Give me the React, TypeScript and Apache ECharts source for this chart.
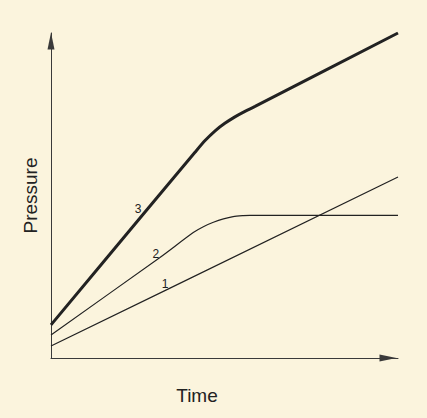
import React, { useEffect, useRef } from 'react';
import * as echarts from 'echarts';

// values, both axes on a 0..100 scale (no ticks shown)
const line1: [number, number][] = [
  [0, 3.7],
  [34.3, 21.5],
  [100, 55.7],
];
const line2: [number, number][] = [
  [0, 7.1],
  [31.4, 30.95],
  [41.0, 38.6],
  [43.9, 40.4],
  [46.8, 41.75],
  [49.7, 42.8],
  [52.5, 43.5],
  [55.4, 43.8],
  [57.3, 43.9],
  [100, 43.9],
];
const line3: [number, number][] = [
  [0, 10.2],
  [27.4, 45.3],
  [41.5, 63.3],
  [44.4, 66.9],
  [47.3, 69.9],
  [50.1, 72.2],
  [53.0, 74.2],
  [55.9, 75.9],
  [58.8, 77.4],
  [100, 100],
];
const curveNames = ['1', '2', '3'];
const labelPoint = [1, 1, 1];
const labelShift: [number, number][] = [
  [-5, -4],
  [-4, -3],
  [-8, -2],
];
const widths = [1.2, 1.2, 3];

const FONT = "'Liberation Sans', Arial, Helvetica, sans-serif";
const INK = '#222';
const BG = '#fbf4dd';

export default function App() {
  const chartRef = useRef<HTMLDivElement>(null);

  useEffect(() => {
    if (!chartRef.current) return;
    const chart = echarts.init(chartRef.current, undefined, { renderer: 'svg' });

    const curves = [line1, line2, line3];
    const series = curves.map((pts, i) => ({
      type: 'line',
      name: curveNames[i],
      silent: true,
      smooth: i === 0 ? false : 0.25,
      symbol: 'circle',
      symbolSize: 0,
      lineStyle: { color: INK, width: widths[i] },
      itemStyle: { color: INK },
      data: pts.map((p, k) =>
        k === labelPoint[i]
          ? {
              value: p,
              label: {
                show: true,
                position: 'inside',
                offset: labelShift[i],
                formatter: curveNames[i],
                color: INK,
                textBorderWidth: 0,
                textBorderColor: 'transparent',
                fontSize: 12,
                fontFamily: FONT,
              },
            }
          : { value: p }
      ),
    }));

    chart.setOption({
      animation: false,
      backgroundColor: BG,
      grid: { left: 51, right: 29, top: 33, bottom: 60 },
      xAxis: {
        type: 'value',
        min: 0,
        max: 100,
        name: 'Time',
        nameLocation: 'middle',
        nameGap: 28,
        nameTextStyle: {
          fontFamily: FONT,
          fontSize: 19,
          color: INK,
          padding: [0, 55, 0, 0],
        },
        axisLine: {
          show: true,
          symbol: ['none', 'triangle'],
          symbolSize: [7, 17],
          symbolOffset: [0, -10],
          lineStyle: { color: '#3a3a3a', width: 1 },
        },
        axisTick: { show: false },
        axisLabel: { show: false },
        splitLine: { show: false },
      },
      yAxis: {
        type: 'value',
        min: 0,
        max: 100,
        name: 'Pressure',
        nameLocation: 'middle',
        nameGap: 11,
        nameTextStyle: { fontFamily: FONT, fontSize: 19, color: INK },
        axisLine: {
          show: true,
          symbol: ['none', 'triangle'],
          symbolSize: [7, 17],
          symbolOffset: [0, -8],
          lineStyle: { color: '#3a3a3a', width: 1 },
        },
        axisTick: { show: false },
        axisLabel: { show: false },
        splitLine: { show: false },
      },
      series,
    });

    return () => {
      chart.dispose();
    };
  }, []);

  return (
    <div
      ref={chartRef}
      style={{ position: 'fixed', left: 0, top: 0, width: 427, height: 418, background: BG }}
    />
  );
}
